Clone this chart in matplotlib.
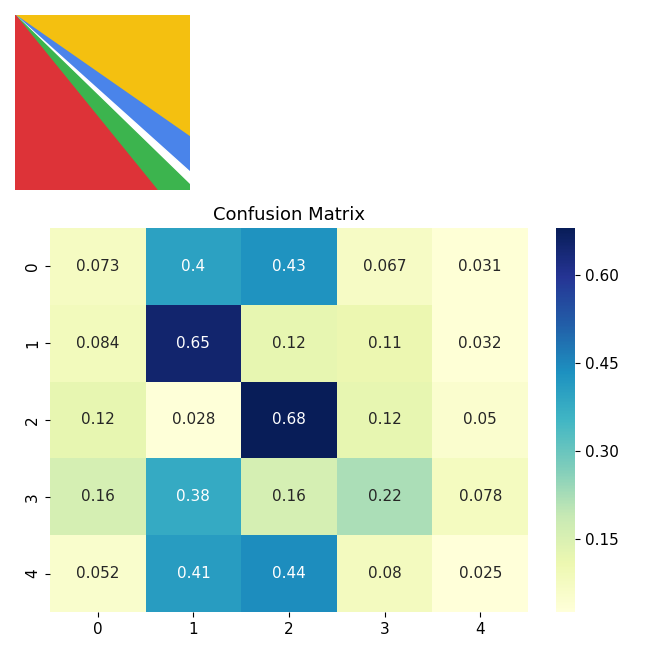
import numpy as np
import matplotlib.pyplot as plt
import seaborn as sns

labels = ['0', '1', '2', '3', '4']
cm = np.array([
    [0.073, 0.4, 0.43, 0.067, 0.031],
    [0.084, 0.65, 0.12, 0.11, 0.032],
    [0.12, 0.028, 0.68, 0.12, 0.05],
    [0.16, 0.38, 0.16, 0.22, 0.078],
    [0.052, 0.41, 0.44, 0.08, 0.025],
])

fig = plt.figure(figsize=(6.5, 6.68), dpi=100)

# logo-like picture at top left (pixel coords of a 175x175 square)
ax_img = fig.add_axes([15 / 650, 1 - 190 / 668, 175 / 650, 175 / 668])
ax_img.set_xlim(0, 175)
ax_img.set_ylim(175, 0)
ax_img.axis('off')
ax_img.fill([0, 175, 175, 0], [0, 0, 122, 0], color='#f4c010')
ax_img.fill([0, 175, 175], [0, 122, 157], color='#4a84ea')
ax_img.fill([0, 175, 175], [0, 157, 170], color='white')
ax_img.fill([0, 175, 175, 142], [0, 170, 175, 175], color='#3cb44e')
ax_img.fill([0, 142, 0], [0, 175, 175], color='#dd3338')

ax = fig.add_axes([50 / 650, 1 - 612 / 668, 478 / 650, 384 / 668])
cax = fig.add_axes([556 / 650, 1 - 612 / 668, 19 / 650, 384 / 668])
sns.heatmap(cm, annot=True, cmap='YlGnBu', ax=ax, cbar_ax=cax,
            xticklabels=labels, yticklabels=labels,
            annot_kws={'fontsize': 11})
ax.set_title('Confusion Matrix', fontsize=13)
ax.tick_params(labelsize=11)
cax.set_yticks([0.15, 0.30, 0.45, 0.60])
cax.set_yticklabels(['0.15', '0.30', '0.45', '0.60'])
cax.tick_params(labelsize=11)

fig.savefig('out.png', dpi=100)
